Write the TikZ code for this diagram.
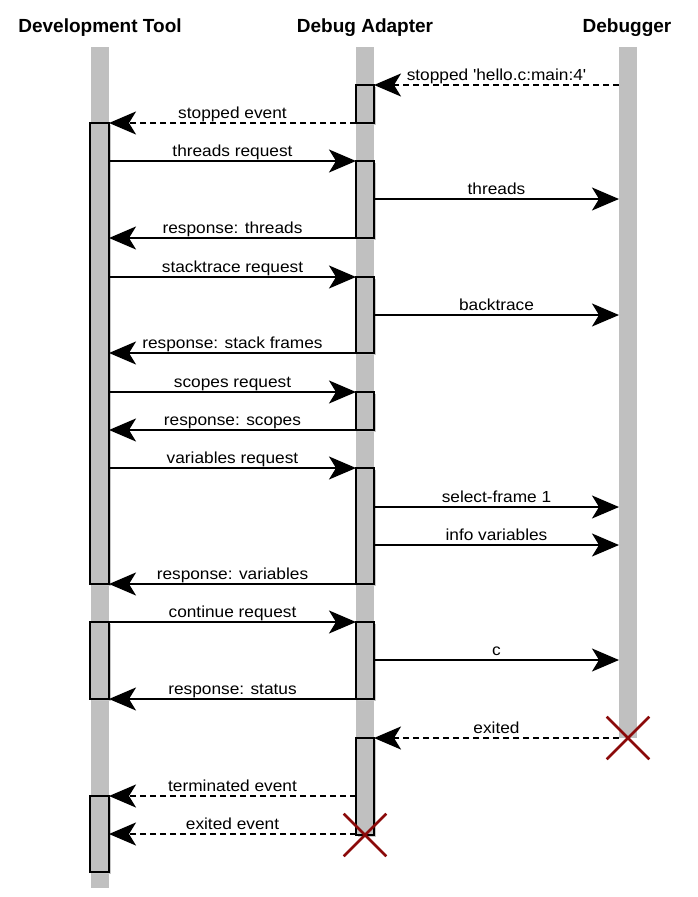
\documentclass[tikz,border=0pt]{standalone}
\usepackage{fontspec}
\setmainfont{Liberation Sans}
\newfontfamily\lblfont[FakeStretch=1.08]{Liberation Sans}
\usetikzlibrary{arrows.meta,shapes.misc}
\definecolor{barGray}{HTML}{C0C0C0}
\definecolor{killRed}{HTML}{8B0A0A}
\tikzset{
  msg/.style={line width=2pt,-{Stealth[length=27pt,width=23pt,inset=7pt]}},
  ret/.style={msg,line width=2.2pt,dash pattern=on 6pt off 4pt},
  lbl/.style={midway,anchor=base,yshift=5pt,inner sep=0pt,font=\lblfont\fontsize{16}{18}\selectfont},
  title/.style={anchor=base,font=\bfseries\fontsize{19}{22}\selectfont},
  actbox/.style={draw=black,line width=1.2pt,fill=barGray,
    preaction={fill=black!22,transform canvas={shift={(1.6pt,-1.6pt)}}}},
  killmark/.style={cross out,draw=killRed,line width=2.6pt,minimum size=40pt,inner sep=0pt}
}
\begin{document}
\begin{tikzpicture}[x=1pt,y=-1pt]
    \useasboundingbox (0,0) rectangle (698,897);
    % lifelines
    \node[title] (devTitle) at (100,32) {Development Tool};
    \node[title] (adpTitle) at (365,32) {Debug Adapter};
    \node[title] (dbgTitle) at (627,32) {Debugger};
    \fill[barGray] (91,47) rectangle (109,888);
    \fill[barGray] (356,47) rectangle (374,835);
    \fill[barGray] (619,47) rectangle (637,738);
    \coordinate (devR) at (109,0);
    \coordinate (adpL) at (356,0);
    \coordinate (adpR) at (374,0);
    \coordinate (dbgL) at (619,0);
    % activations
    \draw[actbox] (90,123) rectangle (109,584);
    \draw[actbox] (90,622) rectangle (109,699);
    \draw[actbox] (90,796) rectangle (109,872);
    \draw[actbox] (356,85) rectangle (374,123);
    \draw[actbox] (356,161) rectangle (374,238);
    \draw[actbox] (356,277) rectangle (374,353);
    \draw[actbox] (356,392) rectangle (374,430);
    \draw[actbox] (356,468) rectangle (374,584);
    \draw[actbox] (356,622) rectangle (374,699);
    \draw[actbox] (356,738) rectangle (374,835);
    % messages
    \draw[ret] (dbgL |- 0,85) -- node[lbl] {stopped 'hello.c:main:4'} (adpR |- 0,85);
    \draw[ret] (adpL |- 0,123) -- node[lbl] {stopped event} (devR |- 0,123);
    \draw[msg] (devR |- 0,161) -- node[lbl] {threads request} (adpL |- 0,161);
    \draw[msg] (adpR |- 0,199) -- node[lbl] {threads} (dbgL |- 0,199);
    \draw[msg] (adpL |- 0,238) -- node[lbl] {response: threads} (devR |- 0,238);
    \draw[msg] (devR |- 0,277) -- node[lbl] {stacktrace request} (adpL |- 0,277);
    \draw[msg] (adpR |- 0,315) -- node[lbl] {backtrace} (dbgL |- 0,315);
    \draw[msg] (adpL |- 0,353) -- node[lbl] {response: stack frames} (devR |- 0,353);
    \draw[msg] (devR |- 0,392) -- node[lbl] {scopes request} (adpL |- 0,392);
    \draw[msg] (adpL |- 0,430) -- node[lbl] {response: scopes} (devR |- 0,430);
    \draw[msg] (devR |- 0,468) -- node[lbl] {variables request} (adpL |- 0,468);
    \draw[msg] (adpR |- 0,507) -- node[lbl] {select-frame 1} (dbgL |- 0,507);
    \draw[msg] (adpR |- 0,545) -- node[lbl] {info variables} (dbgL |- 0,545);
    \draw[msg] (adpL |- 0,584) -- node[lbl] {response: variables} (devR |- 0,584);
    \draw[msg] (devR |- 0,622) -- node[lbl] {continue request} (adpL |- 0,622);
    \draw[msg] (adpR |- 0,660) -- node[lbl] {c} (dbgL |- 0,660);
    \draw[msg] (adpL |- 0,699) -- node[lbl] {response: status} (devR |- 0,699);
    \draw[ret] (dbgL |- 0,738) -- node[lbl] {exited} (adpR |- 0,738);
    \draw[ret] (adpL |- 0,796) -- node[lbl] {terminated event} (devR |- 0,796);
    \draw[ret] (adpL |- 0,834) -- node[lbl] {exited event} (devR |- 0,834);
    % ends
    \node[killmark] (dbgEnd) at (628,738) {};
    \node[killmark] (adpEnd) at (365,835) {};
\end{tikzpicture}
\end{document}
